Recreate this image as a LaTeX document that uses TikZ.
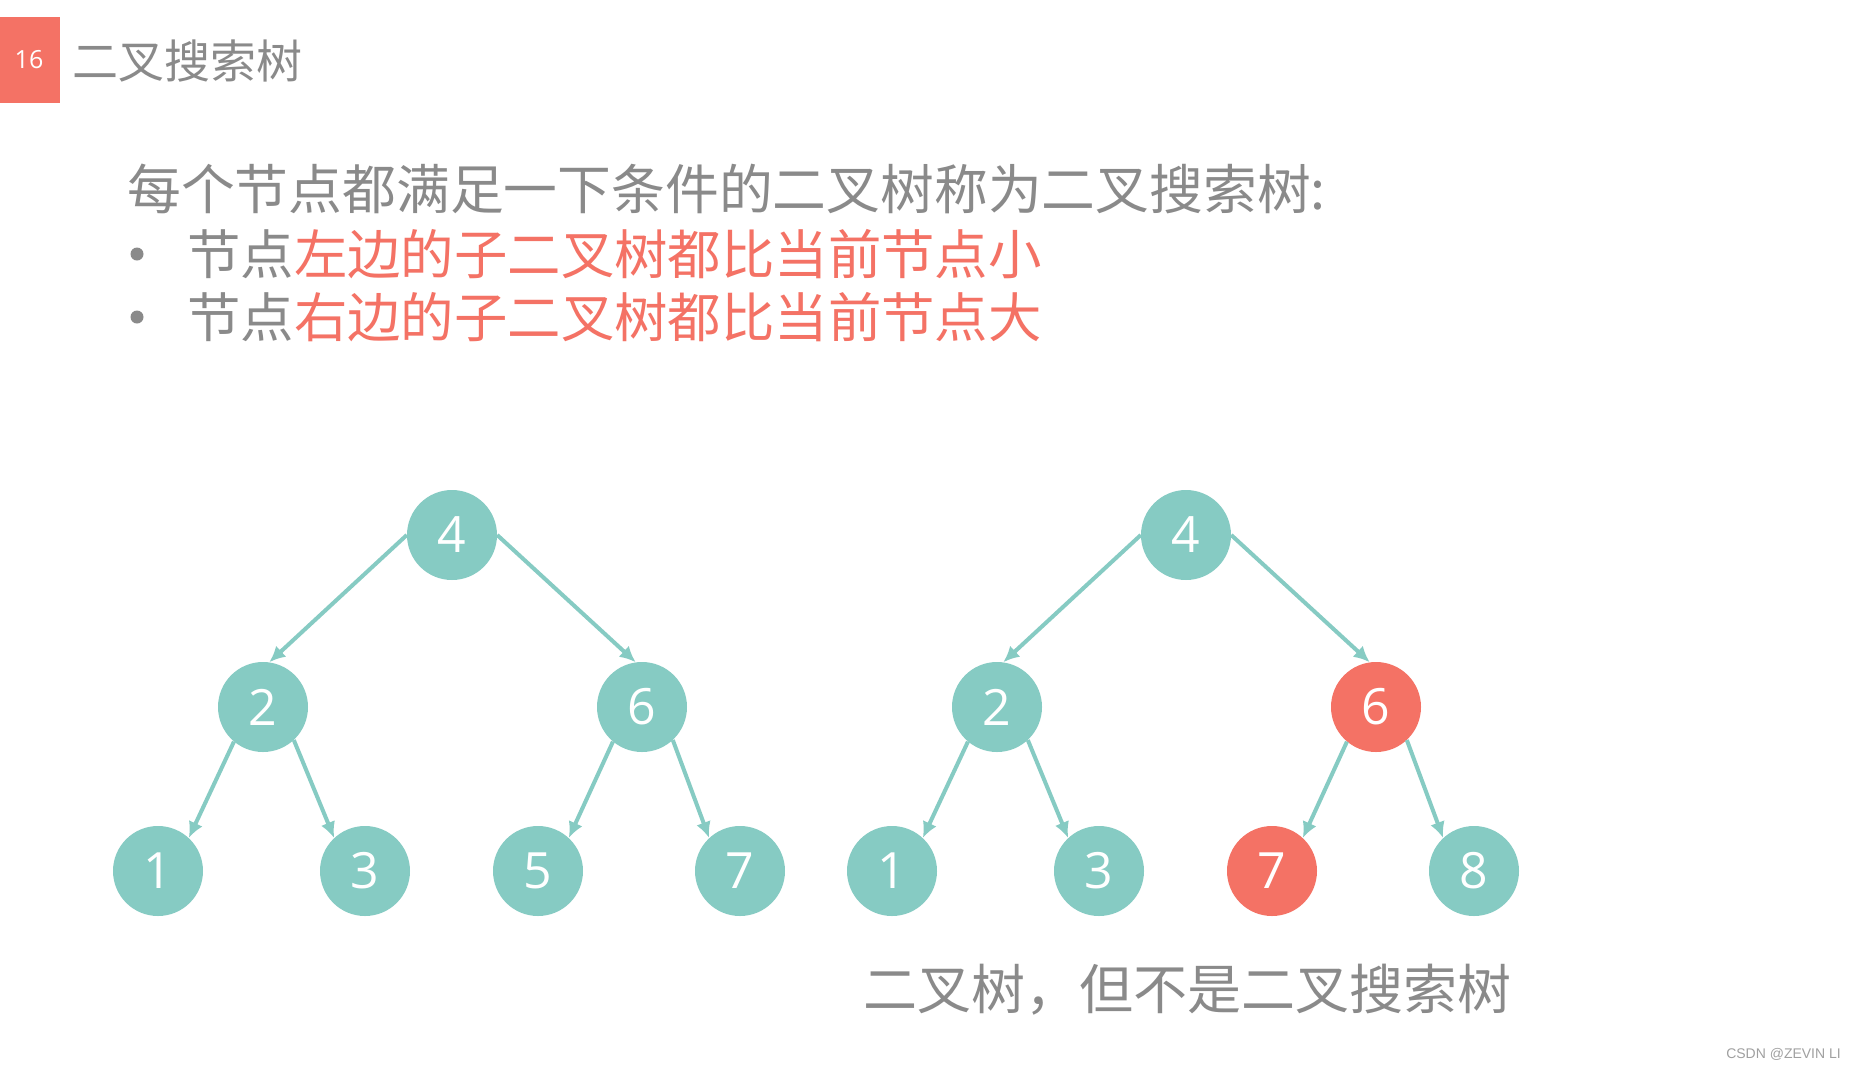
\documentclass[tikz,border=0pt]{standalone}
\usepackage{fontspec}
\setmainfont{Noto Sans CJK SC}
\newfontfamily\digitfont{Open Sans}
\newfontfamily\wmfont{Liberation Sans}
\usetikzlibrary{arrows.meta}
\definecolor{teal1}{HTML}{86CBC3}
\definecolor{red1}{HTML}{F47265}
\definecolor{gray1}{HTML}{8A8A8A}
\definecolor{gray2}{HTML}{A0A0A0}
\tikzset{
  tnode/.style={circle,fill=teal1,minimum size=90pt,inner sep=0pt,text=white,font=\digitfont\fontsize{50}{50}\selectfont},
  rnode/.style={tnode,fill=red1},
  edge/.style={draw=teal1,line width=4pt,-{Latex[length=16pt,width=15pt]}},
  bodytext/.style={anchor=base west,inner sep=0pt,text=gray1,font=\fontsize{53.4}{60}\selectfont},
  bullet/.style={circle,fill=gray1,minimum size=13pt,inner sep=0pt},
}
\begin{document}
\begin{tikzpicture}[x=1pt,y=-1pt]
\useasboundingbox (0,0) rectangle (1855,1069);
\fill[white] (0,0) rectangle (1855,1069);
% header
\fill[red1] (0,17) rectangle (60,103);
\node[text=white,font=\digitfont\fontsize{25}{25}\selectfont] (num) at (29,60) {16};
\node[anchor=base west,inner sep=0pt,text=gray1,font=\fontsize{46}{50}\selectfont] (title) at (72,78) {二叉搜索树};
% body text
\node[bodytext,font=\fontsize{53.8}{60}\selectfont] (l1) at (127,209) {每个节点都满足一下条件的二叉树称为二叉搜索树:};
\node[bullet] (b1) at (137,254) {};
\node[bodytext] (l2) at (187,274) {节点\textcolor{red1}{左边的子二叉树都比当前节点小}};
\node[bullet] (b2) at (137,317) {};
\node[bodytext] (l3) at (187,337) {节点\textcolor{red1}{右边的子二叉树都比当前节点大}};
% left tree
\node[tnode] (a4) at (452,535) {4};
\node[tnode] (a2) at (263,707) {2};
\node[tnode] (a6) at (642,707) {6};
\node[tnode] (a1) at (158,871) {1};
\node[tnode] (a3) at (365,871) {3};
\node[tnode] (a5) at (538,871) {5};
\node[tnode] (a7) at (740,871) {7};
\draw[edge] (a4.west) -- (a2.82);
\draw[edge] (a4.east) -- (a6.98);
\draw[edge] (a2.-130) -- (a1.47);
\draw[edge] (a2.-47) -- (a3.133);
\draw[edge] (a6.-130) -- (a5.47);
\draw[edge] (a6.-47) -- (a7.133);
% right tree
\node[tnode] (b4) at (1186,535) {4};
\node[tnode] (b2n) at (997,707) {2};
\node[rnode] (b6) at (1376,707) {6};
\node[tnode] (b1n) at (892,871) {1};
\node[tnode] (b3) at (1099,871) {3};
\node[rnode] (b7) at (1272,871) {7};
\node[tnode] (b8) at (1474,871) {8};
\draw[edge] (b4.west) -- (b2n.82);
\draw[edge] (b4.east) -- (b6.98);
\draw[edge] (b2n.-130) -- (b1n.47);
\draw[edge] (b2n.-47) -- (b3.133);
\draw[edge] (b6.-130) -- (b7.47);
\draw[edge] (b6.-47) -- (b8.133);
% caption
\node[bodytext,font=\fontsize{54}{60}\selectfont] (cap) at (863,1009) {二叉树，但不是二叉搜索树};
% watermark
\node[anchor=base east,inner sep=0pt,text=gray2,font=\wmfont\fontsize{14}{14}\selectfont] (wm) at (1841,1058) {CSDN @ZEVIN LI};
\end{tikzpicture}
\end{document}
